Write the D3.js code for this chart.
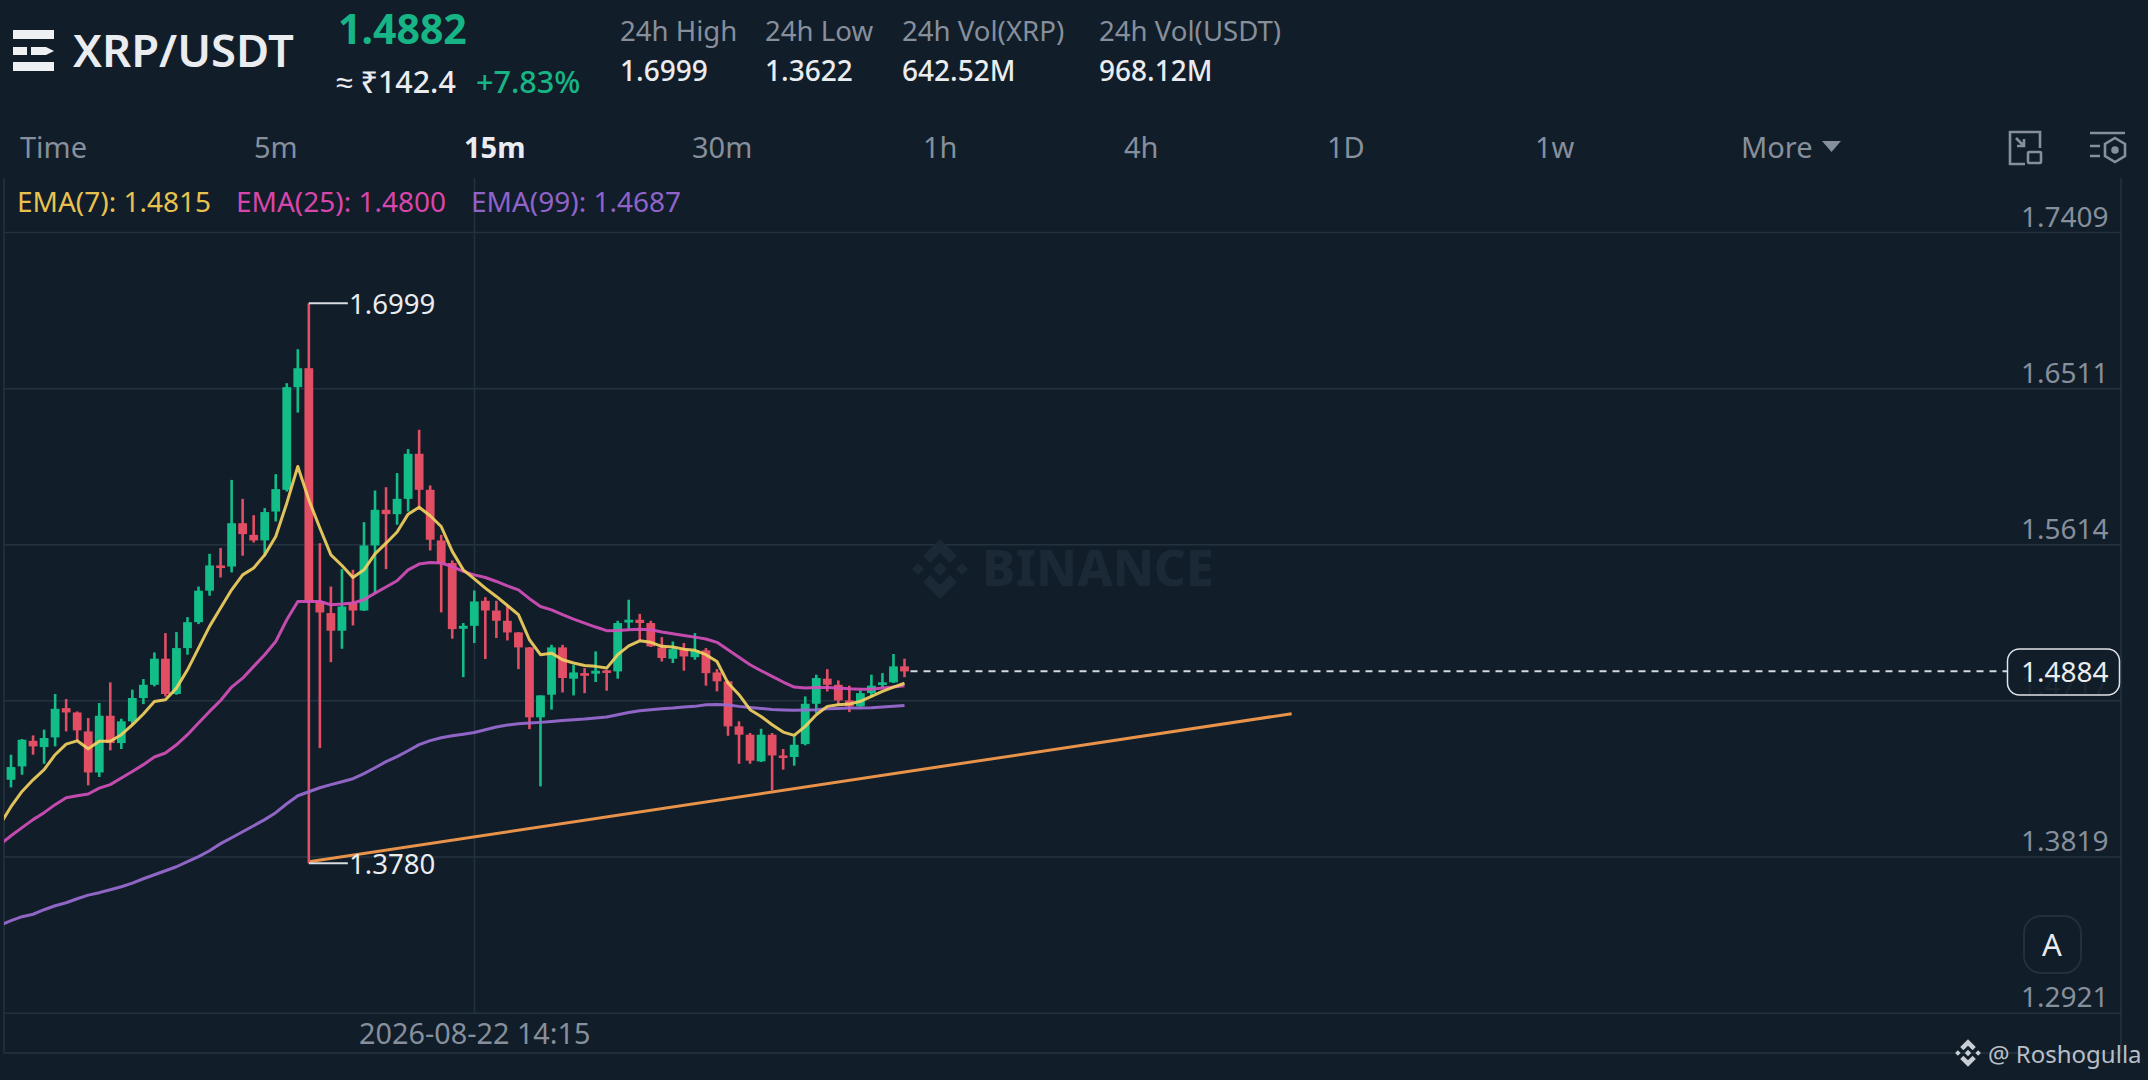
<!DOCTYPE html>
<html>
<head>
<meta charset="utf-8">
<script src="https://cdn.jsdelivr.net/npm/d3@7"></script>
<style>
html,body{margin:0;padding:0;background:#111d29;overflow:hidden}
svg{display:block}
text{font-family:"Noto Sans",sans-serif}
</style>
</head>
<body>
<svg id="chart" width="2148" height="1080"></svg>
<script>
const opens=[1.4260,1.4337,1.4484,1.4448,1.4504,1.4672,1.4647,1.4538,1.4302,1.4628,1.4471,1.4596,1.4730,1.4806,1.4956,1.4753,1.5017,1.5166,1.5347,1.5492,1.5486,1.5735,1.5668,1.5636,1.5802,1.5927,1.6517,1.6626,1.5285,1.5218,1.5117,1.5276,1.5233,1.5607,1.5812,1.5787,1.5875,1.6134,1.5927,1.5636,1.5506,1.5128,1.5145,1.5289,1.5233,1.5174,1.5107,1.5021,1.4619,1.4749,1.5021,1.4841,1.4873,1.4870,1.4889,1.4883,1.5164,1.5180,1.5161,1.5021,1.4956,1.5011,1.4965,1.5004,1.4877,1.4826,1.4567,1.4519,1.4366,1.4519,1.4400,1.4391,1.4465,1.4697,1.4841,1.4806,1.4716,1.4682,1.4758,1.4806,1.4820,1.4912];
const highs=[1.4404,1.4494,1.4515,1.4548,1.4753,1.4724,1.4653,1.4615,1.4701,1.4820,1.4611,1.4778,1.4839,1.4992,1.5103,1.5109,1.5195,1.5371,1.5559,1.5592,1.5984,1.5875,1.5781,1.5822,1.6017,1.6540,1.6735,1.6999,1.5620,1.5371,1.5471,1.5467,1.5741,1.5923,1.5942,1.6023,1.6161,1.6272,1.5952,1.5668,1.5521,1.5161,1.5348,1.5310,1.5289,1.5256,1.5109,1.5023,1.4745,1.5036,1.5036,1.4921,1.4902,1.4998,1.4892,1.5174,1.5295,1.5214,1.5174,1.5080,1.5055,1.5046,1.5103,1.5017,1.4896,1.4831,1.4596,1.4529,1.4553,1.4529,1.4437,1.4509,1.4739,1.4864,1.4896,1.4831,1.4801,1.4774,1.4864,1.4873,1.4983,1.4956];
const lows=[1.4216,1.4289,1.4404,1.4352,1.4452,1.4538,1.4481,1.4228,1.4276,1.4429,1.4437,1.4576,1.4695,1.4797,1.4739,1.4749,1.4979,1.5155,1.5318,1.5423,1.5452,1.5548,1.5624,1.5544,1.5745,1.5917,1.6371,1.3780,1.4442,1.4936,1.5013,1.5147,1.5230,1.5333,1.5471,1.5726,1.5802,1.5812,1.5578,1.5222,1.5071,1.4850,1.5046,1.4954,1.5075,1.5061,1.4896,1.4551,1.4222,1.4663,1.4762,1.4745,1.4758,1.4822,1.4772,1.4841,1.5122,1.5061,1.5023,1.4940,1.4931,1.4887,1.4950,1.4801,1.4768,1.4513,1.4352,1.4352,1.4362,1.4199,1.4318,1.4341,1.4458,1.4644,1.4768,1.4691,1.4649,1.4678,1.4735,1.4787,1.4816,1.4850];
const closes=[1.4333,1.4490,1.4452,1.4500,1.4668,1.4647,1.4544,1.4302,1.4628,1.4471,1.4596,1.4730,1.4806,1.4956,1.4753,1.5017,1.5166,1.5347,1.5492,1.5481,1.5735,1.5672,1.5636,1.5799,1.5931,1.6517,1.6626,1.5285,1.5222,1.5117,1.5256,1.5233,1.5607,1.5812,1.5787,1.5875,1.6134,1.5927,1.5640,1.5506,1.5126,1.5145,1.5285,1.5233,1.5174,1.5107,1.5021,1.4619,1.4745,1.5021,1.4845,1.4877,1.4862,1.4887,1.4877,1.5161,1.5180,1.5161,1.5027,1.4960,1.5011,1.4969,1.5004,1.4873,1.4826,1.4567,1.4519,1.4370,1.4519,1.4400,1.4389,1.4461,1.4697,1.4845,1.4806,1.4716,1.4682,1.4758,1.4801,1.4820,1.4912,1.4883];

// EMA series start one bar before the first candle (index -1)
const ema7=[1.4002,1.4105,1.4193,1.4260,1.4318,1.4404,1.4465,1.4484,1.4438,1.4481,1.4481,1.4519,1.4576,1.4638,1.4710,1.4720,1.4787,1.4892,1.5017,1.5142,1.5247,1.5352,1.5438,1.5477,1.5553,1.5659,1.5850,1.6061,1.5869,1.5707,1.5553,1.5492,1.5423,1.5467,1.5559,1.5620,1.5684,1.5787,1.5827,1.5778,1.5716,1.5573,1.5467,1.5415,1.5362,1.5314,1.5262,1.5209,1.5065,1.4979,1.4988,1.4950,1.4931,1.4917,1.4912,1.4902,1.4979,1.5030,1.5059,1.5050,1.5027,1.5023,1.5011,1.5004,1.4979,1.4940,1.4816,1.4749,1.4663,1.4624,1.4576,1.4534,1.4515,1.4567,1.4634,1.4682,1.4691,1.4695,1.4711,1.4739,1.4768,1.4793,1.4815];
const ema25=[1.3887,1.3938,1.3985,1.4031,1.4071,1.4117,1.4157,1.4168,1.4178,1.4212,1.4232,1.4270,1.4308,1.4347,1.4391,1.4414,1.4461,1.4519,1.4586,1.4653,1.4716,1.4793,1.4844,1.4912,1.4979,1.5055,1.5180,1.5285,1.5285,1.5285,1.5266,1.5270,1.5276,1.5295,1.5333,1.5368,1.5404,1.5467,1.5500,1.5509,1.5506,1.5486,1.5458,1.5438,1.5423,1.5400,1.5375,1.5352,1.5301,1.5256,1.5237,1.5209,1.5184,1.5161,1.5138,1.5117,1.5118,1.5122,1.5126,1.5122,1.5109,1.5099,1.5090,1.5080,1.5069,1.5050,1.5007,1.4965,1.4921,1.4887,1.4854,1.4822,1.4793,1.4787,1.4791,1.4791,1.4787,1.4783,1.4781,1.4781,1.4787,1.4793,1.4800];
const ema99=[1.3424,1.3450,1.3473,1.3487,1.3513,1.3536,1.3553,1.3576,1.3597,1.3611,1.3628,1.3645,1.3666,1.3691,1.3714,1.3737,1.3760,1.3789,1.3818,1.3852,1.3893,1.3927,1.3961,1.3996,1.4031,1.4071,1.4122,1.4168,1.4191,1.4214,1.4232,1.4249,1.4266,1.4295,1.4329,1.4364,1.4393,1.4427,1.4462,1.4485,1.4502,1.4513,1.4522,1.4532,1.4548,1.4563,1.4575,1.4582,1.4586,1.4590,1.4595,1.4601,1.4605,1.4609,1.4615,1.4621,1.4634,1.4647,1.4657,1.4663,1.4668,1.4672,1.4678,1.4682,1.4691,1.4693,1.4690,1.4682,1.4676,1.4670,1.4664,1.4661,1.4659,1.4661,1.4663,1.4668,1.4670,1.4672,1.4672,1.4674,1.4678,1.4682,1.4687];

const priceTicks=[1.7409,1.6511,1.5614,1.4717,1.3819,1.2921];
const timeTicks=[42];
const timeTickLabels=["2026-08-22 14:15"];
const trendIdx=[27,116.1];
const trendPrice=[1.3789,1.4640];
const lastPrice=1.4884, hiPrice=1.6999, loPrice=1.3780, hiIdx=27;
const intervals=["Time","5m","15m","30m","1h","4h","1D","1w","More"];
const intervalX=[20,254,464,692,923,1124,1327,1535,1741];
const stats=[["24h High","1.6999",620],["24h Low","1.3622",765],["24h Vol(XRP)","642.52M",902],["24h Vol(USDT)","968.12M",1099]];
const emaLabels=[["EMA(7): 1.4815",17,"#e8c24f"],["EMA(25): 1.4800",236,"#d946ab"],["EMA(99): 1.4687",471,"#8f63c9"]];

const BG="#111d29",GRID="#243240",GREEN="#13bd88",RED="#e24e64",MUTED="#868f9b",WHITE="#eaecef";
const svg=d3.select("#chart");
const x=d3.scaleLinear().domain([0,81]).range([11,904.5]);
const y=d3.scaleLinear().domain([1.7409,1.2921]).range([232,1012.7]);
const FONT_AX=28;

function txt(t,xx,yy,size,fill,weight,anchor){
  return svg.append("text").attr("x",xx).attr("y",yy).attr("font-size",size).attr("fill",fill)
    .attr("font-weight",weight||400).attr("text-anchor",anchor||"start").text(t);
}
function logo(cx,cy,s,fill){
  const g=svg.append("g").attr("transform",`translate(${cx},${cy}) scale(${s})`).attr("fill",fill);
  ["M0,-7L7,0L0,7L-7,0Z","M-22,-6L-16,0L-22,6L-28,0Z","M22,-6L28,0L22,6L16,0Z",
   "M0,-30L17,-13L10,-6L0,-16L-10,-6L-17,-13Z","M0,30L17,13L10,6L0,16L-10,6L-17,13Z"].forEach(d=>g.append("path").attr("d",d));
}

// frame
[[4,178,4,1053],[474.5,178,474.5,1013],[2121,178,2121,1053],[4,1053,2121,1053]].forEach(a=>
  svg.append("line").attr("x1",a[0]).attr("y1",a[1]).attr("x2",a[2]).attr("y2",a[3]).attr("stroke",GRID).attr("stroke-width",1.5));

// price axis and gridlines
const ax=svg.append("g").attr("transform","translate(2121,0)")
  .call(d3.axisLeft(y).tickValues(priceTicks).tickSize(2117).tickFormat(d3.format(".4f")));
ax.select(".domain").remove();
ax.selectAll("line").attr("stroke",GRID).attr("stroke-width",1.5);
ax.selectAll("text").attr("x",-100).attr("dy",-6).attr("text-anchor","start")
  .attr("font-size",FONT_AX).attr("fill",MUTED).attr("font-family",'"Noto Sans",sans-serif');

// time axis label
const tAx=svg.append("g").attr("transform","translate(0,1044)")
  .call(d3.axisBottom(x).tickValues(timeTicks).tickSize(0).tickFormat((d,i)=>timeTickLabels[i]));
tAx.select(".domain").remove();
tAx.selectAll("text").attr("y",0).attr("dy",0).attr("font-size",28.8).attr("fill",MUTED).attr("font-family",'"Noto Sans",sans-serif');

// watermark
logo(940,569,1,"#1b2836");
txt("BINANCE",982,586,50,"#1b2836",800);

// trend line
svg.append("line").attr("x1",x(trendIdx[0])).attr("y1",y(trendPrice[0])).attr("x2",x(trendIdx[1])).attr("y2",y(trendPrice[1]))
  .attr("stroke","#e8924a").attr("stroke-width",3);

// candles
const idx=d3.range(opens.length);
const col=i=>closes[i]>=opens[i]?GREEN:RED;
const c=svg.append("g");
c.selectAll("rect.w").data(idx).join("rect").attr("class","w")
  .attr("x",i=>x(i)-1.3).attr("width",2.6)
  .attr("y",i=>y(highs[i])).attr("height",i=>y(lows[i])-y(highs[i])).attr("fill",col);
c.selectAll("rect.b").data(idx).join("rect").attr("class","b")
  .attr("x",i=>x(i)-4.4).attr("width",8.8)
  .attr("y",i=>y(Math.max(opens[i],closes[i])))
  .attr("height",i=>Math.max(2.6,Math.abs(y(opens[i])-y(closes[i])))).attr("fill",col);

// EMA lines
svg.append("clipPath").attr("id","plot").append("rect").attr("x",4).attr("y",178).attr("width",2117).attr("height",875);
const line=d3.line().x((d,i)=>x(i-1)).y(d=>y(d));
[[ema99,"#9a6bd3"],[ema25,"#d44fba"],[ema7,"#f2d060"]].forEach(([s,color])=>
  svg.append("path").attr("d",line(s)).attr("fill","none").attr("stroke",color).attr("stroke-width",3)
   .attr("stroke-opacity",.92).attr("stroke-linejoin","round").attr("clip-path","url(#plot)"));

// high / low markers
const hx=x(hiIdx);
svg.append("line").attr("x1",hx).attr("x2",hx+39).attr("y1",y(hiPrice)).attr("y2",y(hiPrice)).attr("stroke","#d9dde2").attr("stroke-width",2);
svg.append("line").attr("x1",hx).attr("x2",hx+39).attr("y1",y(loPrice)).attr("y2",y(loPrice)).attr("stroke","#d9dde2").attr("stroke-width",2);
txt(d3.format(".4f")(hiPrice),349,314,27.6,WHITE);
txt(d3.format(".4f")(loPrice),349,874,27.6,WHITE);

// last price
svg.append("line").attr("x1",x(81)+6).attr("x2",2007).attr("y1",y(lastPrice)).attr("y2",y(lastPrice))
  .attr("stroke","#d5d9de").attr("stroke-width",2).attr("stroke-dasharray","7 6");
svg.append("rect").attr("x",2007.5).attr("y",649).attr("width",112).attr("height",46).attr("rx",12)
  .attr("fill",BG).attr("fill-opacity",.92).attr("stroke","#dfe3e7").attr("stroke-width",1.5);
txt(d3.format(".4f")(lastPrice),2021,682,FONT_AX,WHITE);

// A button
svg.append("rect").attr("x",2024).attr("y",916).attr("width",57).attr("height",57).attr("rx",17).attr("fill",BG).attr("stroke","#232f3c").attr("stroke-width",2);
txt("A",2052,956,31,WHITE,400,"middle");

// header
const hb=svg.append("g").attr("fill","#eef0f2");
hb.append("rect").attr("x",13).attr("y",30).attr("width",41).attr("height",9);
hb.append("rect").attr("x",13).attr("y",62).attr("width",41).attr("height",9);
hb.append("rect").attr("x",13).attr("y",47).attr("width",14).attr("height",8);
hb.append("path").attr("d","M31,47H46L54,51L46,55H31Z");
txt("XRP/USDT",73,67,45.4,WHITE,600);
txt("1.4882",338,44,41,"#17b585",700);
txt("≈ ₹142.4",336,93,30.4,WHITE,500);
txt("+7.83%",476,93,30.6,"#17b585",500);
stats.forEach(s=>{txt(s[0],s[2],41,27.6,MUTED);txt(s[1],s[2],81,28,WHITE,500);});

// interval tabs
intervals.forEach((t,i)=>txt(t,intervalX[i],158,29,t==="15m"?WHITE:MUTED,t==="15m"?700:400));
svg.append("path").attr("d","M1822,141H1841L1831.5,152Z").attr("fill",MUTED);

// right icons
const ic=svg.append("g").attr("fill","none").attr("stroke",MUTED).attr("stroke-width",2.6);
ic.append("path").attr("d","M2025,164H2010V132H2040V148");
ic.append("rect").attr("x",2028).attr("y",152).attr("width",13).attr("height",11).attr("rx",1);
ic.append("path").attr("d","M2016,138L2024,146M2024,139V146H2017");
ic.append("path").attr("d","M2090,133H2125M2090,146H2100M2090,156H2100");
ic.append("path").attr("d","M2115,138L2125,144V156L2115,162L2105,156V144Z");
ic.append("circle").attr("cx",2115).attr("cy",150).attr("r",2.5).attr("fill",MUTED);

// EMA legend
emaLabels.forEach(l=>txt(l[0],l[1],212,28,l[2]));

// watermark author
logo(1968,1053,.46,"#c9ced4");
txt("@ Roshogulla",1988,1063,24,"#b9bfc7");
</script>
</body>
</html>
